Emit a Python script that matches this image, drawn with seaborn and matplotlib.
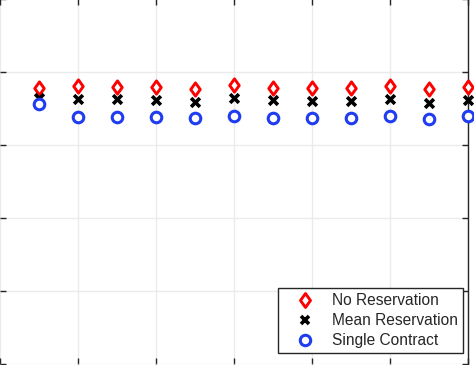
import matplotlib
matplotlib.use("Agg")
import matplotlib.pyplot as plt
import seaborn as sns
import numpy as np
import pandas as pd
from matplotlib.lines import Line2D
from matplotlib.path import Path

sns.set_theme(style="white")
plt.rcParams['font.family'] = ['Liberation Sans', 'DejaVu Sans']

x_vals = [1, 2, 3, 4, 5, 6, 7, 8, 9, 10, 11, 12]
no_reservation = [3.787, 3.809, 3.795, 3.795, 3.764, 3.823, 3.787, 3.777, 3.777, 3.809, 3.764, 3.795]
mean_reservation = [3.640, 3.626, 3.626, 3.622, 3.595, 3.650, 3.613, 3.603, 3.603, 3.636, 3.581, 3.613]
single_contract = [3.558, 3.383, 3.383, 3.389, 3.365, 3.397, 3.375, 3.375, 3.375, 3.397, 3.361, 3.397]
labels = ["No Reservation", "Mean Reservation", "Single Contract"]

W, H = 474, 365
fig = plt.figure(figsize=(W / 100, H / 100), dpi=100)
ax = fig.add_axes([0 / W, (H - 364) / H, 468 / W, 365 / H])

df = pd.DataFrame({"x": x_vals, "no": no_reservation, "mean": mean_reservation, "single": single_contract})

red = "#ff0000"
black = "#000000"
blue = "#1f3cf0"

diamond = Path([(0, 1), (0.72, 0), (0, -1), (-0.72, 0), (0, 1)],
               [Path.MOVETO, Path.LINETO, Path.LINETO, Path.LINETO, Path.CLOSEPOLY])

sns.scatterplot(data=df, x="x", y="no", marker=diamond, s=90, facecolor="white",
                edgecolor=red, linewidth=2.1, ax=ax, zorder=3, clip_on=False)
sns.scatterplot(data=df, x="x", y="mean", marker="x", s=40, color=black,
                linewidth=2.6, ax=ax, zorder=3, clip_on=False)
sns.scatterplot(data=df, x="x", y="single", marker="o", s=58, facecolor="white",
                edgecolor=blue, linewidth=2.2, ax=ax, zorder=3, clip_on=False)

ax.set_xlim(0, 12)
ax.set_ylim(0, 5)
ax.set_xticks(np.arange(0, 13, 2))
ax.set_yticks(np.arange(0, 6, 1))
ax.set_xticklabels([])
ax.set_yticklabels([])
ax.set_xlabel("")
ax.set_ylabel("")
ax.grid(True, color="#ebebeb", linewidth=1)
ax.set_axisbelow(True)
for s in ["left", "top", "bottom"]:
    ax.spines[s].set_visible(False)
ax.spines["right"].set_visible(True)
ax.spines["right"].set_color("#262626")
ax.spines["right"].set_linewidth(1)
ax.tick_params(axis="both", which="both", direction="in", length=4, width=1,
               color="#262626", top=True, right=True, bottom=True, left=True)

handles = [
    Line2D([], [], linestyle="none", marker=diamond, markersize=10, markerfacecolor="white",
           markeredgecolor=red, markeredgewidth=2.1),
    Line2D([], [], linestyle="none", marker="x", markersize=6.3, color=black, markeredgewidth=2.6),
    Line2D([], [], linestyle="none", marker="o", markersize=7.5, markerfacecolor="white",
           markeredgecolor=blue, markeredgewidth=2.2),
]
leg = ax.legend(handles, labels, loc="lower right",
                bbox_to_anchor=(463 / W, (H - 353) / H), bbox_transform=fig.transFigure,
                fontsize=11.2, frameon=True, fancybox=False, framealpha=1,
                edgecolor="#262626", borderpad=0.3, labelspacing=0.33,
                handlelength=2.9, handletextpad=0.3, borderaxespad=0)
leg.get_frame().set_linewidth(1)

fig.savefig("out.png", dpi=100)
